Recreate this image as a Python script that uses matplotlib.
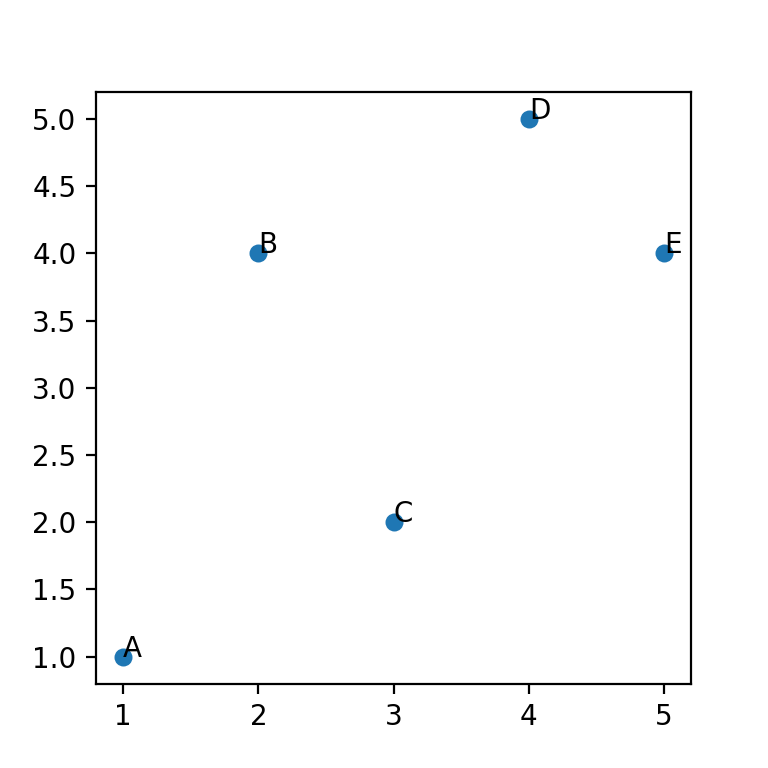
import matplotlib
matplotlib.use("Agg")
import matplotlib.pyplot as plt

# data points and their labels
x = [1, 2, 3, 4, 5]
y = [1, 4, 2, 5, 4]
labels = ["A", "B", "C", "D", "E"]

fig, ax = plt.subplots(figsize=(3.84, 3.84), dpi=200)
ax.scatter(x, y, s=30)

# put each label right at its point
for xi, yi, lab in zip(x, y, labels):
    ax.text(xi, yi, lab)

ax.set_xticks(x)

fig.savefig("out.png", dpi=200)
